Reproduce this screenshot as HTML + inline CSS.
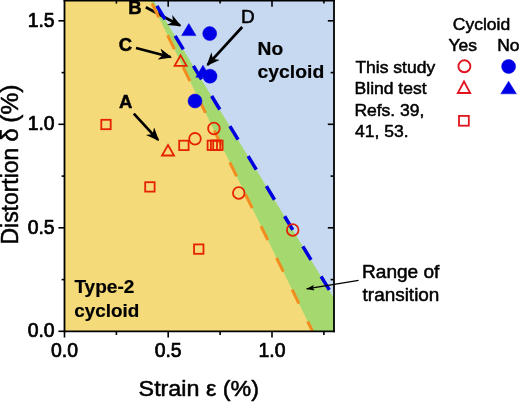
<!DOCTYPE html>
<html><head><meta charset="utf-8"><title>Strain distortion phase diagram</title>
<style>
html,body{margin:0;padding:0;background:#fff;}
body{width:520px;height:402px;overflow:hidden;}
svg{display:block;font-family:"Liberation Sans",sans-serif;}
text{stroke:#000;stroke-width:0.5px;stroke-linejoin:round;}
.tk{font-size:19.4px;fill:#000;stroke-width:0.7px;}
.ax{font-size:23px;fill:#000;}
.bd{font-size:18.2px;font-weight:bold;fill:#000;stroke-width:0.2px;}
.lb{font-size:18.5px;fill:#000;}
.lg{font-size:16.7px;fill:#000;}
.rt{font-size:18px;fill:#000;}
</style></head><body>
<svg width="520" height="402" viewBox="0 0 520 402">
<defs>
<marker id="ah" viewBox="0 0 12 10" refX="10.5" refY="5" markerWidth="13.5" markerHeight="11.5" markerUnits="userSpaceOnUse" orient="auto"><path d="M0,0 L12,5 L0,10 L3.5,5 Z" fill="#000"/></marker>
<marker id="ahs" viewBox="0 0 9 6" refX="8.5" refY="3" markerWidth="11.5" markerHeight="5.6" markerUnits="userSpaceOnUse" orient="auto"><path d="M0,0 L9,3 L0,6 L2,3 Z" fill="#000"/></marker>
<clipPath id="cp"><rect x="64.5" y="0" width="269.5" height="331.3"/></clipPath>
</defs>
<rect width="520" height="402" fill="#fff"/>

<g clip-path="url(#cp)">
<rect x="64.5" y="0" width="269.5" height="331.3" fill="#F5DA7A"/>
<polygon points="150.3,0 334,0 334,331.3 312.5,331.3" fill="#A5D86F"/>
<polygon points="153.2,0 334,0 334,297.9" fill="#C6D9F1"/>
<line x1="145.8" y1="7.3" x2="180" y2="25.5" stroke="#000" stroke-width="2.7" marker-end="url(#ah)"/>
<line x1="152" y1="3.5" x2="312.6" y2="331.5" stroke="#F28C1E" stroke-width="3" stroke-dasharray="15.5 19.9"/>
<line x1="156.9" y1="5.8" x2="334" y2="297.7" stroke="#0000E0" stroke-width="3.5" stroke-dasharray="15.8 19.37"/>
</g>
<g stroke="#000" stroke-width="1.8" fill="none">
<line x1="64.5" y1="0" x2="64.5" y2="332.2"/>
<line x1="63.6" y1="331.3" x2="334.9" y2="331.3"/>
<line x1="334" y1="0" x2="334" y2="332.2"/>
<line x1="63.6" y1="0.5" x2="334.9" y2="0.5" stroke-width="2"/>
</g>
<g stroke="#000" stroke-width="1.6" fill="none">
<line x1="64.5" y1="331.3" x2="64.5" y2="337.5"/>
<line x1="116.4" y1="331.3" x2="116.4" y2="335"/>
<line x1="116.4" y1="0" x2="116.4" y2="3.6"/>
<line x1="168.2" y1="331.3" x2="168.2" y2="337.5"/>
<line x1="168.2" y1="0" x2="168.2" y2="6.8"/>
<line x1="220.1" y1="331.3" x2="220.1" y2="335"/>
<line x1="220.1" y1="0" x2="220.1" y2="3.6"/>
<line x1="272.0" y1="331.3" x2="272.0" y2="337.5"/>
<line x1="272.0" y1="0" x2="272.0" y2="6.8"/>
<line x1="323.9" y1="331.3" x2="323.9" y2="335"/>
<line x1="323.9" y1="0" x2="323.9" y2="3.6"/>
<line x1="58.4" y1="331.3" x2="64.5" y2="331.3"/>
<line x1="61.6" y1="279.6" x2="64.5" y2="279.6"/>
<line x1="330.6" y1="279.6" x2="334" y2="279.6"/>
<line x1="58.4" y1="227.8" x2="64.5" y2="227.8"/>
<line x1="327.8" y1="227.8" x2="334" y2="227.8"/>
<line x1="61.6" y1="176.1" x2="64.5" y2="176.1"/>
<line x1="330.6" y1="176.1" x2="334" y2="176.1"/>
<line x1="58.4" y1="124.3" x2="64.5" y2="124.3"/>
<line x1="327.8" y1="124.3" x2="334" y2="124.3"/>
<line x1="61.6" y1="72.6" x2="64.5" y2="72.6"/>
<line x1="330.6" y1="72.6" x2="334" y2="72.6"/>
<line x1="58.4" y1="20.8" x2="64.5" y2="20.8"/>
<line x1="327.8" y1="20.8" x2="334" y2="20.8"/>
</g>
<text class="tk" x="64.5" y="356.8" text-anchor="middle">0.0</text>
<text class="tk" x="168.2" y="356.8" text-anchor="middle">0.5</text>
<text class="tk" x="272.0" y="356.8" text-anchor="middle">1.0</text>
<text class="tk" x="54.6" y="337.3" text-anchor="end">0.0</text>
<text class="tk" x="54.6" y="233.8" text-anchor="end">0.5</text>
<text class="tk" x="54.6" y="130.3" text-anchor="end">1.0</text>
<text class="tk" x="54.6" y="26.8" text-anchor="end">1.5</text>
<text class="ax" style="font-size:21.7px" x="138.6" y="395.7" textLength="120.4" lengthAdjust="spacingAndGlyphs">Strain ε (%)</text>
<g transform="translate(18.3,244.5) rotate(-90)"><text class="ax" x="0" y="0" textLength="96.8" lengthAdjust="spacingAndGlyphs">Distortion</text><text class="ax" x="102.8" y="0" textLength="13.6" lengthAdjust="spacingAndGlyphs">δ</text><text class="ax" x="121.8" y="0" textLength="38.2" lengthAdjust="spacingAndGlyphs">(%)</text></g>
<text class="bd" x="257.6" y="54.5" textLength="25.6" lengthAdjust="spacingAndGlyphs">No</text>
<text class="bd" x="257.6" y="78.0" textLength="66.6" lengthAdjust="spacingAndGlyphs">cycloid</text>
<text class="bd" x="74.4" y="292.7" textLength="60" lengthAdjust="spacingAndGlyphs">Type-2</text>
<text class="bd" x="74.2" y="316.8" textLength="65" lengthAdjust="spacingAndGlyphs">cycloid</text>
<rect x="101.30" y="119.80" width="9.4" height="9.4" fill="none" stroke="#E62200" stroke-width="1.8"/>
<rect x="145.20" y="182.20" width="9.4" height="9.4" fill="none" stroke="#E62200" stroke-width="1.8"/>
<rect x="194.05" y="244.40" width="9.4" height="9.4" fill="none" stroke="#E62200" stroke-width="1.8"/>
<rect x="179.20" y="140.70" width="9.4" height="9.4" fill="none" stroke="#E62200" stroke-width="1.8"/>
<rect x="207.60" y="140.60" width="9.4" height="9.4" fill="none" stroke="#E62200" stroke-width="1.8"/>
<rect x="210.90" y="140.60" width="9.4" height="9.4" fill="none" stroke="#E62200" stroke-width="1.8"/>
<rect x="213.20" y="140.60" width="9.4" height="9.4" fill="none" stroke="#E62200" stroke-width="1.8"/>
<circle cx="195.00" cy="138.80" r="5.8" fill="none" stroke="#E62200" stroke-width="1.8"/>
<circle cx="213.90" cy="128.50" r="5.8" fill="none" stroke="#E62200" stroke-width="1.8"/>
<circle cx="238.75" cy="193.00" r="5.8" fill="none" stroke="#E62200" stroke-width="1.8"/>
<circle cx="292.70" cy="230.00" r="5.8" fill="none" stroke="#E62200" stroke-width="1.8"/>
<polygon points="168.00,145.00 174.00,155.50 162.00,155.50" fill="none" stroke="#E62200" stroke-width="1.8" stroke-linejoin="miter"/>
<polygon points="180.60,55.40 186.60,65.90 174.60,65.90" fill="none" stroke="#E62200" stroke-width="1.8" stroke-linejoin="miter"/>
<polygon points="188.80,23.60 196.00,35.60 181.60,35.60" fill="#0000E6" stroke="#0000E6" stroke-width="0.5" stroke-linejoin="miter"/>
<polygon points="203.00,65.20 210.20,77.20 195.80,77.20" fill="#0000E6" stroke="#0000E6" stroke-width="0.5" stroke-linejoin="miter"/>
<circle cx="209.70" cy="33.60" r="7" fill="#0000E6" stroke="#0000E6" stroke-width="0.5"/>
<circle cx="210.00" cy="76.20" r="7" fill="#0000E6" stroke="#0000E6" stroke-width="0.5"/>
<circle cx="195.00" cy="101.00" r="7" fill="#0000E6" stroke="#0000E6" stroke-width="0.5"/>
<text class="lb" font-weight="bold" stroke-width="0.1" x="119" y="108.4">A</text>
<text class="lb" font-weight="bold" stroke-width="0.1" x="128.3" y="14.2">B</text>
<text class="lb" font-weight="bold" stroke-width="0.1" x="118.7" y="51.3">C</text>
<text class="lb" style="font-size:19px" x="241" y="23">D</text>
<g stroke="#000" stroke-width="2.7" fill="none">
<line x1="133.8" y1="113.7" x2="158" y2="139.8" marker-end="url(#ah)"/>
<line x1="136" y1="48" x2="170.5" y2="57" marker-end="url(#ah)"/>
<line x1="242.2" y1="27" x2="207.6" y2="64.8" marker-end="url(#ah)"/>
</g>
<line x1="358.6" y1="280.4" x2="306.6" y2="288.9" stroke="#000" stroke-width="1.2" marker-end="url(#ahs)"/>
<text class="rt" x="362" y="277.7" textLength="77.4" lengthAdjust="spacingAndGlyphs">Range of</text>
<text class="rt" x="362.6" y="300.9" textLength="76.8" lengthAdjust="spacingAndGlyphs">transition</text>
<text class="lg" x="452.8" y="29.7" textLength="57.39" lengthAdjust="spacingAndGlyphs">Cycloid</text>
<text class="lg" x="448.4" y="50.9" textLength="28.56" lengthAdjust="spacingAndGlyphs">Yes</text>
<text class="lg" x="497.2" y="50.9" textLength="22.38" lengthAdjust="spacingAndGlyphs">No</text>
<text class="lg" x="355.4" y="72.5" textLength="79.75" lengthAdjust="spacingAndGlyphs">This study</text>
<text class="lg" x="354.6" y="93.7" textLength="71.98" lengthAdjust="spacingAndGlyphs">Blind test</text>
<text class="lg" x="354.4" y="115.9" textLength="70.05" lengthAdjust="spacingAndGlyphs">Refs. 39,</text>
<text class="lg" x="355" y="137.1" textLength="53.53" lengthAdjust="spacingAndGlyphs">41, 53.</text>
<circle cx="464.40" cy="66.30" r="6" fill="none" stroke="#E0141E" stroke-width="1.9"/>
<polygon points="464.00,81.50 470.20,93.00 457.80,93.00" fill="none" stroke="#E0141E" stroke-width="1.8" stroke-linejoin="miter"/>
<rect x="459.00" y="115.90" width="9.8" height="9.8" fill="none" stroke="#E0141E" stroke-width="1.8"/>
<circle cx="508.60" cy="66.50" r="7" fill="#0000E6" stroke="#0000E6" stroke-width="0.5"/>
<polygon points="508.60,81.20 516.40,93.80 500.80,93.80" fill="#0000E6" stroke="#0000E6" stroke-width="0.5" stroke-linejoin="miter"/>
</svg></body></html>
